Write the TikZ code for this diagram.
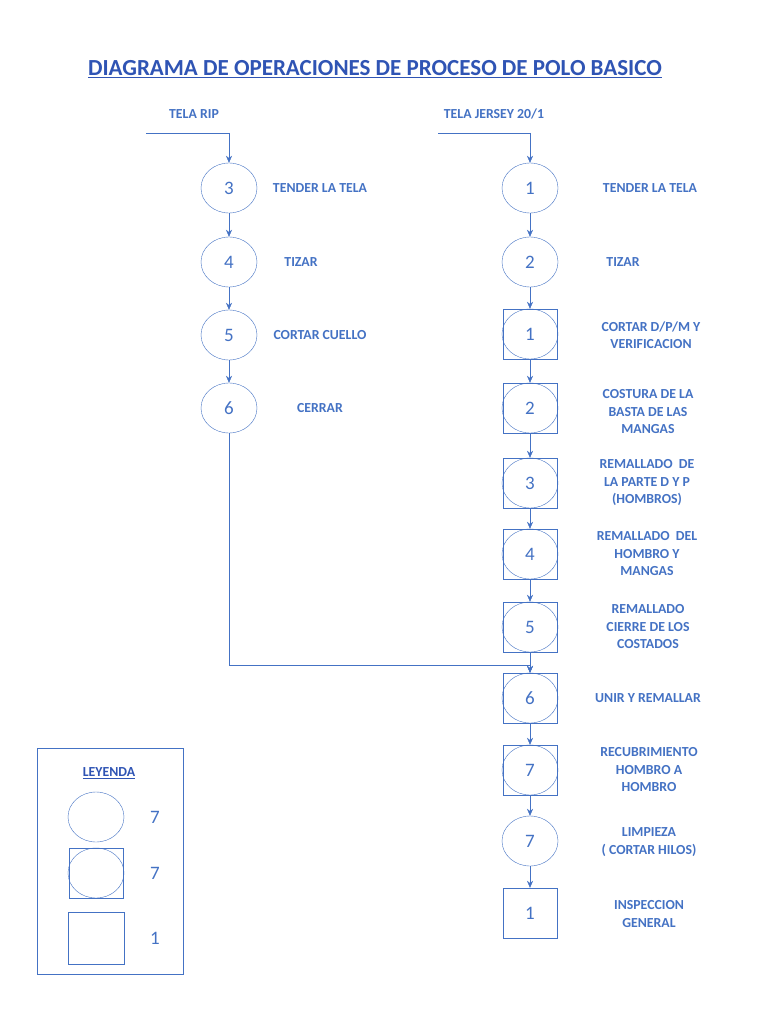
\documentclass[tikz,border=0pt]{standalone}
\usepackage{fontspec}
\setmainfont{Carlito}
\usetikzlibrary{arrows.meta,shapes.geometric}
\definecolor{bl}{RGB}{68,114,196}
\definecolor{tb}{RGB}{47,84,180}
\begin{document}
\begin{tikzpicture}[x=1pt,y=-1pt,
 op/.style={draw=bl,ellipse,minimum width=56pt,minimum height=50pt,inner sep=0pt,font=\fontsize{19}{20}\selectfont,text=bl},
 sq/.style={draw=bl,rectangle,minimum width=54pt,minimum height=50pt,inner sep=0pt,font=\fontsize{19}{20}\selectfont,text=bl},
 lab/.style={font=\bfseries\fontsize{13.8}{17.5}\selectfont,text=bl,align=center},
 ar/.style={draw=bl,-{Stealth[length=7pt,width=6pt]}},
 ln/.style={draw=bl}]
\useasboundingbox (0,0) rectangle (768,1024);
\fill[white] (0,0) rectangle (768,1024);
\node[font=\bfseries\fontsize{23}{25}\selectfont,text=tb] at (375,69) {\underline{DIAGRAMA DE OPERACIONES DE PROCESO DE POLO BASICO}};
% left
\node[lab] at (194,114) {TELA RIP};
\node[lab] at (494,114) {TELA JERSEY 20/1};
\coordinate (ls) at (146,133); \coordinate (lk) at (229,133);
\coordinate (rs) at (438,133); \coordinate (rk) at (530,133);
\foreach \n/\t/\y in {l1/3/188,l2/4/262,l3/5/335,l4/6/408}
  \node[op] (\n) at (229,\y) {\t};
\draw[ln] (ls)--(lk); \draw[ar] (lk)--(l1);
\draw[ar] (l1)--(l2); \draw[ar] (l2)--(l3); \draw[ar] (l3)--(l4);
\node[lab] at (320,188) {TENDER LA TELA};
\node[lab] at (301,262) {TIZAR};
\node[lab] at (320,335) {CORTAR CUELLO};
\node[lab] at (320,408) {CERRAR};
% right
\foreach \n/\t/\y in {r1/1/188,r2/2/262,r9/7/841}
  \node[op] (\n) at (530,\y) {\t};
\foreach \n/\t/\y in {r3/1/334,r4/2/408,r5/3/483,r6/4/554,r7/5/627,r8/6/698,r8b/7/770}{
  \node[sq] at (530,\y) {};
  \node[op] (\n) at (530,\y) {\t};}
\node[sq] (r10) at (530,913) {1};
\draw[ln] (rs)--(rk); \draw[ar] (rk)--(r1);
\draw[ar] (r1)--(r2); \draw[ar] (r2)--(r3); \draw[ar] (r3)--(r4); \draw[ar] (r4)--(r5);
\draw[ar] (r5)--(r6); \draw[ar] (r6)--(r7); \draw[ar] (r7)--(r8); \draw[ar] (r8)--(r8b);
\draw[ar] (r8b)--(r9); \draw[ar] (r9)--(r10);
\coordinate (jn) at (530,665);
\draw[ar] (l4.south) |- (jn) -- (r8.north);
\node[lab] at (650,188) {TENDER LA TELA};
\node[lab] at (623,262) {TIZAR};
\node[lab] at (651,335) {CORTAR D/P/M Y\\VERIFICACION};
\node[lab] at (648,412) {COSTURA DE LA\\BASTA DE LAS\\MANGAS};
\node[lab] at (647,483) {REMALLADO\ \ DE\\LA PARTE D Y P\\(HOMBROS)};
\node[lab] at (647,554) {REMALLADO\ \ DEL\\HOMBRO Y\\MANGAS};
\node[lab] at (648,627) {REMALLADO\\CIERRE DE LOS\\COSTADOS};
\node[lab] at (648,698) {UNIR Y REMALLAR};
\node[lab] at (649,770) {RECUBRIMIENTO\\HOMBRO A\\HOMBRO};
\node[lab] at (649,842) {LIMPIEZA\\( CORTAR HILOS)};
\node[lab] at (649,914) {INSPECCION\\GENERAL};
% legend
\node[draw=bl,minimum width=146pt,minimum height=226pt,inner sep=0pt] (leg) at (110,861) {};
\node[font=\bfseries\fontsize{13.8}{15}\selectfont,text=tb] at (109,773) {\underline{LEYENDA}};
\node[op] (g1) at (96,817) {};
\node[sq] at (96,873) {}; \node[op] (g2) at (96,873) {};
\node[sq,minimum width=56pt,minimum height=52pt] (g3) at (96,938) {};
\node[text=bl,font=\fontsize{19}{20}\selectfont] at (155,817) {7};
\node[text=bl,font=\fontsize{19}{20}\selectfont] at (155,873) {7};
\node[text=bl,font=\fontsize{19}{20}\selectfont] at (155,938) {1};
\end{tikzpicture}
\end{document}
